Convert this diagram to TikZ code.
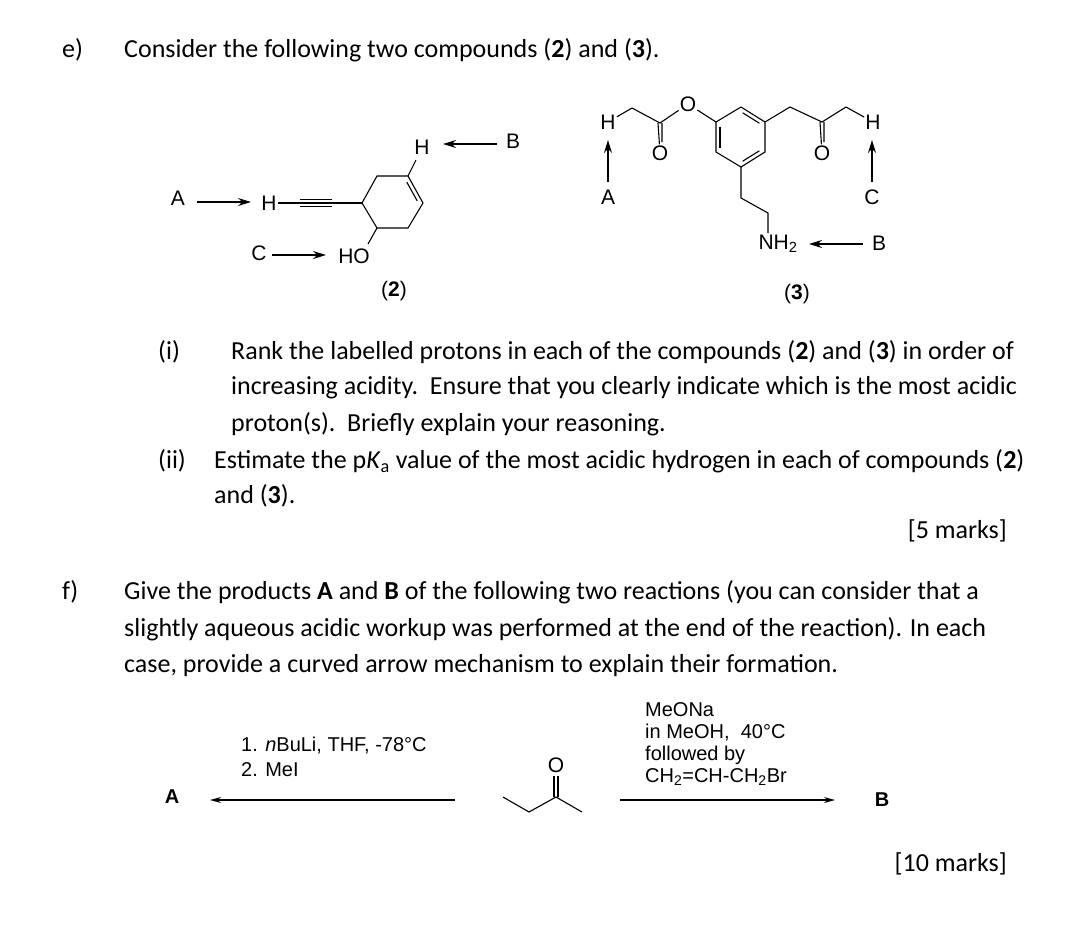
\documentclass[tikz,border=0pt]{standalone}
\usepackage{fontspec}
\setmainfont{Carlito}
\newfontfamily\arl{Liberation Sans}
\usetikzlibrary{arrows.meta,calc}
\begin{document}
\begin{tikzpicture}[x=1pt,y=-1pt,
  txt/.style={anchor=west,font=\fontsize{26}{30}\selectfont,inner sep=0pt},
  lab/.style={font=\arl\fontsize{21}{24}\selectfont,inner sep=1pt},
  bond/.style={line width=1.1pt},
  arr/.style={line width=1.4pt,-{Stealth[length=13pt,width=8pt]}},
  rarr/.style={line width=1.2pt,-{Stealth[length=11pt,width=6pt]}}]
\useasboundingbox (0,0) rectangle (1066,940);
% texts
\node[txt] (e) at (62,50) {e)};
\node[txt] (t1) at (124,50) {Consider the following two compounds (\textbf{2}) and (\textbf{3}).};
\node[txt] (i) at (158,352) {(i)};
\node[txt] (i1) at (231,352) {Rank the labelled protons in each of the compounds (\textbf{2}) and (\textbf{3}) in order of};
\node[txt] (i2) at (231,388) {increasing acidity.\ \ Ensure that you clearly indicate which is the most acidic};
\node[txt] (i3) at (231,424) {proton(s).\ \ Briefly explain your reasoning.};
\node[txt] (ii) at (158,461) {(ii)};
\node[txt] (ii1) at (214,461) {Estimate the p\textit{K}\textsubscript{a} value of the most acidic hydrogen in each of compounds (\textbf{2})};
\node[txt] (ii2) at (214,496) {and (\textbf{3}).};
\node[txt,anchor=east] (m5) at (1007,531) {[5 marks]};
\node[txt] (f) at (62,592) {f)};
\node[txt] (f1) at (124,592) {Give the products \textbf{A} and \textbf{B} of the following two reactions (you can consider that a};
\node[txt] (f2) at (124,629) {slightly aqueous acidic workup was performed at the end of the reaction). In each};
\node[txt] (f3) at (124,666) {case, provide a curved arrow mechanism to explain their formation.};
\node[txt,anchor=east] (m10) at (1007,864) {[10 marks]};
% compound 2
\coordinate (r1) at (377,176); \coordinate (r2) at (408,176); \coordinate (r3) at (423,203);
\coordinate (r4) at (408,228); \coordinate (r5) at (377,228); \coordinate (r6) at (362,203);
\draw[bond] (r1)--(r2)--(r3)--(r4)--(r5)--(r6)--cycle;
\draw[bond] ($(r2)!0.15!(r3)+(-3.5,2)$) -- ($(r2)!0.85!(r3)+(-3.5,2)$);
\node[lab] (h2b) at (422,147) {H};
\draw[bond] (r2) -- (416,160);
\node[lab] (h2a) at (269,203) {H};
\draw[bond] (h2a) -- (300,203);
\draw[bond] (300,199.5)--(332,199.5) (300,203)--(332,203) (300,206.5)--(332,206.5);
\draw[bond] (332,203) -- (r6);
\node[lab] (ho) at (354,256) {HO};
\draw[bond] (r5) -- (368,244);
\node[lab] (a2) at (178,198) {A};
\node[lab] (c2) at (259,253) {C};
\node[lab] (b2) at (513,141) {B};
\draw[arr] (197,202) -- (251,202);
\draw[arr] (272,255) -- (326,255);
\draw[arr] (497,144) -- (443,144);
\node[lab] (n2) at (394,291) {(\textbf{2})};
% compound 3
\coordinate (b1) at (716,122); \coordinate (b2) at (741,107); \coordinate (b3) at (765,122);
\coordinate (b4) at (765,152); \coordinate (b5) at (741,167); \coordinate (b6) at (716,152);
\draw[bond] (b1)--(b2)--(b3)--(b4)--(b5)--(b6)--cycle;
\draw[bond] ($(b1)!0.15!(b6)+(4,0)$)--($(b1)!0.85!(b6)+(4,0)$);
\draw[bond] ($(b2)!0.15!(b3)+(-2,3.5)$)--($(b2)!0.85!(b3)+(-2,3.5)$);
\draw[bond] ($(b4)!0.15!(b5)+(-2,-3.5)$)--($(b4)!0.85!(b5)+(-2,-3.5)$);
\node[lab] (o1) at (688,104) {O};
\draw[bond] (o1) -- (b1);
\node[lab] (h3a) at (608,122) {H};
\draw[bond] (h3a) -- (632,108) -- (660,123) -- (o1);
\node[lab] (o2) at (660,153) {O};
\draw[bond] (658,123) -- (o2) (662,123) -- (662,142);
\draw[bond] (b3) -- (790,107) -- (822,122) -- (846,107);
\node[lab] (h3c) at (873,122) {H};
\draw[bond] (846,107) -- (h3c);
\node[lab] (o3) at (822,153) {O};
\draw[bond] (820,122) -- (o3) (824,122) -- (824,142);
\coordinate (c1) at (741,198); \coordinate (c2p) at (768,213);
\node[lab] (nh) at (778,244) {NH\textsubscript{2}};
\draw[bond] (b5) -- (c1) -- (c2p) -- (768,233);
\node[lab] (a3) at (608,197) {A};
\node[lab] (c3) at (872,197) {C};
\node[lab] (b3l) at (879,243) {B};
\draw[arr] (608,182) -- (608,140);
\draw[arr] (872,182) -- (872,140);
\draw[arr] (863,244) -- (809,244);
\node[lab] (n3) at (797,294) {(\textbf{3})};
% reaction
\node[lab,font=\arl\bfseries\fontsize{20}{24}\selectfont] (pa) at (172,797) {A};
\node[lab,font=\arl\bfseries\fontsize{20}{24}\selectfont] (pb) at (882,800) {B};
\coordinate (k1) at (503,797); \coordinate (k2) at (529,812); \coordinate (k3) at (556,797); \coordinate (k4) at (582,812);
\draw[bond] (k1)--(k2)--(k3)--(k4);
\node[lab] (ko) at (556,765) {O};
\draw[bond] (554,797)--(554,776) (558,797)--(558,776);
\draw[rarr] (455,800) -- (210,800);
\draw[rarr] (620,800) -- (835,800);
\node[lab,anchor=west,align=left,font=\arl\fontsize{20}{25}\selectfont] (rl) at (240,757) {1. \textit{n}BuLi, THF, -78°C\\2. MeI};
\node[lab,anchor=west,align=left,font=\arl\fontsize{20}{22}\selectfont] (rr) at (644,744) {MeONa\\in MeOH,\ \ 40°C\\followed by\\CH\textsubscript{2}=CH-CH\textsubscript{2}Br};
\end{tikzpicture}
\end{document}
